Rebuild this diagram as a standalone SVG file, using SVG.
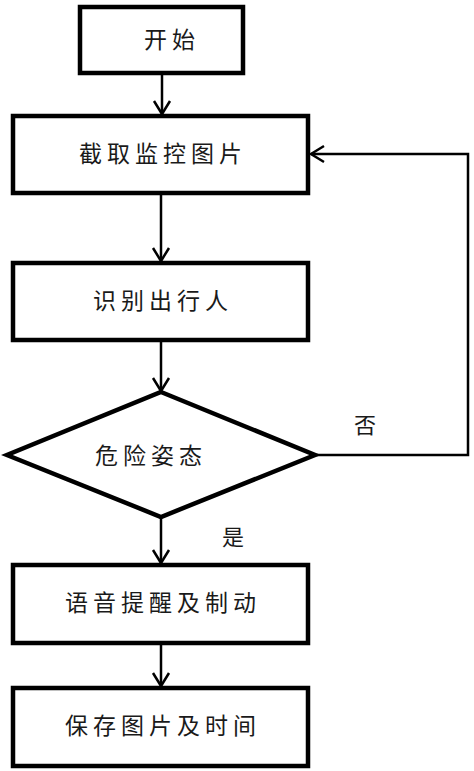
<svg xmlns="http://www.w3.org/2000/svg" width="474" height="771" viewBox="0 0 474 771">
<style>
.box{fill:#fff;stroke:#000;stroke-width:4.5}
.ln{fill:none;stroke:#000;stroke-width:2.5}
.ah{fill:none;stroke:#000;stroke-width:2.5;stroke-linejoin:miter}
.t{font-family:"Liberation Serif","Noto Sans CJK SC",serif;font-size:23px;fill:#1a1a1a;text-anchor:middle;letter-spacing:5px}
.lb{font-family:"Liberation Serif","Noto Sans CJK SC",serif;font-size:22px;fill:#1a1a1a;text-anchor:middle}
</style>
<rect width="474" height="771" fill="#fff"/>
<g id="connectors">
<line class="ln" x1="162" y1="73" x2="162" y2="114"/>
<polyline class="ah" points="154,101 162,114 170,101"/>
<line class="ln" x1="161" y1="193" x2="161" y2="261"/>
<polyline class="ah" points="153,248 161,261 169,248"/>
<line class="ln" x1="161" y1="340" x2="161" y2="391"/>
<polyline class="ah" points="153,378 161,391 169,378"/>
<line class="ln" x1="161" y1="517" x2="161" y2="563"/>
<polyline class="ah" points="153,550 161,563 169,550"/>
<line class="ln" x1="161" y1="643" x2="161" y2="686"/>
<polyline class="ah" points="153,673 161,686 169,673"/>
<polyline class="ln" points="315,455 468,455 468,154 311,154"/>
<polyline class="ah" points="324,146 311,154 324,162"/>
<text class="lb" x="365" y="433">否</text>
<text class="lb" x="233" y="545">是</text>
</g>
<g id="start">
<rect class="box" x="80" y="7" width="163" height="66"/>
<text class="t" x="172" y="48">开始</text>
</g>
<g id="capture">
<rect class="box" x="13" y="116" width="295" height="77"/>
<text class="t" x="163" y="162">截取监控图片</text>
</g>
<g id="identify">
<rect class="box" x="13" y="263" width="295" height="77"/>
<text class="t" x="163" y="309">识别出行人</text>
</g>
<g id="danger">
<polygon class="box" points="161,392 315,455 161,517 7,455"/>
<text class="t" x="151" y="464">危险姿态</text>
</g>
<g id="alert">
<rect class="box" x="13" y="565" width="295" height="78"/>
<text class="t" x="163" y="611">语音提醒及制动</text>
</g>
<g id="save">
<rect class="box" x="13" y="688" width="295" height="78"/>
<text class="t" x="163" y="734">保存图片及时间</text>
</g>
</svg>
